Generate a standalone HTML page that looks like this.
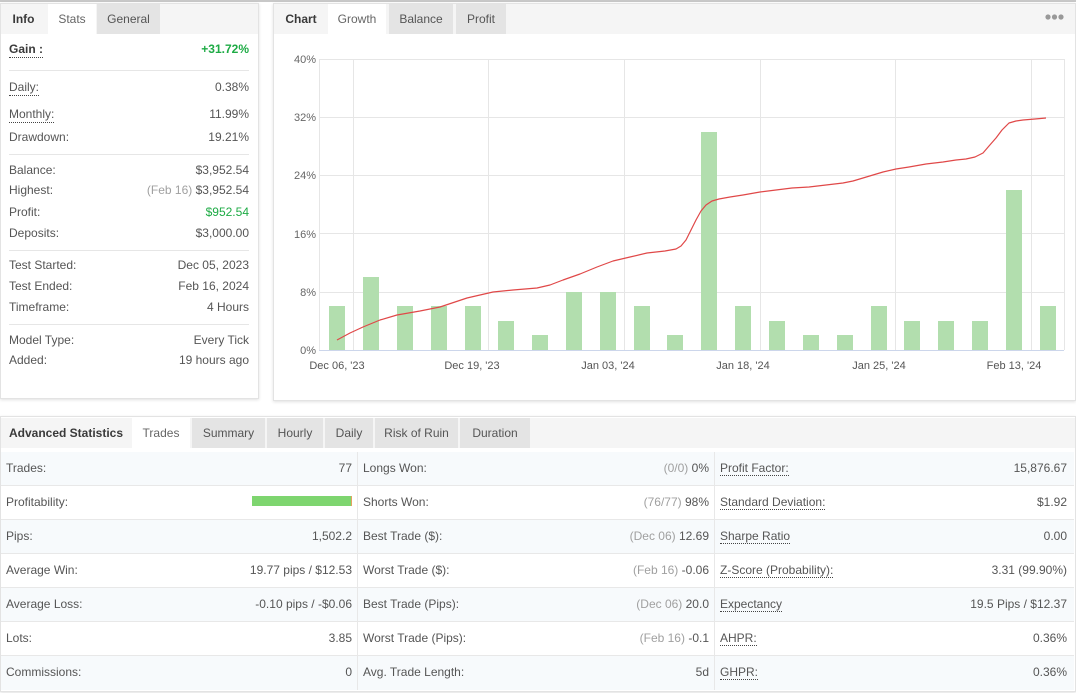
<!DOCTYPE html>
<html><head><meta charset="utf-8">
<style>
*{margin:0;padding:0;box-sizing:border-box}
body{width:1076px;height:693px;background:#fff;font-family:"Liberation Sans",Arial,sans-serif;font-size:12px;color:#555;position:relative;overflow:hidden}
.abs{position:absolute}
.panel{position:absolute;background:#fff;border:1px solid #e3e3e3;box-shadow:0 1px 3px rgba(0,0,0,0.12)}
.hdr{position:absolute;background:#f5f5f5}
.tab{position:absolute;height:30px;line-height:30px;text-align:center;color:#555;font-size:12px}
.tab.w{background:#fff;color:#666}
.tab.g{background:#e4e4e4;color:#555}
.row{position:absolute;left:9px;width:240px;height:16px;line-height:16px;color:#555}
.row .l{position:absolute;left:0;color:#555}
.row .r{position:absolute;right:0;color:#555}
.dot{border-bottom:1px dotted #444}
.gr{color:#a0a0a0}
.hr{position:absolute;left:9px;width:240px;height:1px;background:#e6e6e6}
.tr{position:absolute;left:1px;width:1073px;height:34px;border-bottom:1px solid #e8e8e8}
.tr.b{background:#f7fafc}
.c{position:absolute;top:0;height:33px;line-height:33px;color:#555}
.vsep{position:absolute;width:1px;background:#e8e8e8}
</style></head><body>
<div class="abs" style="left:0;top:0;width:1076px;height:2px;background:#c8c8c8"></div>

<!-- Left panel -->
<div class="panel" style="left:0;top:3px;width:259px;height:396px"></div>
<div class="hdr" style="left:1px;top:4px;width:257px;height:30px"></div>
<div class="tab" style="left:1px;top:4px;width:45px;font-weight:bold;color:#3a3a3a">Info</div>
<div class="tab w" style="left:48px;top:4px;width:48px">Stats</div>
<div class="tab g" style="left:97px;top:4px;width:63px">General</div>

<div class="row" style="top:41px"><span class="l dot" style="font-weight:bold;color:#3a3a3a">Gain :</span><span class="r" style="font-weight:bold;color:#1eab45">+31.72%</span></div>
<div class="hr" style="top:70px"></div>
<div class="row" style="top:79px"><span class="l dot">Daily:</span><span class="r">0.38%</span></div>
<div class="row" style="top:106px"><span class="l dot">Monthly:</span><span class="r">11.99%</span></div>
<div class="row" style="top:129px"><span class="l">Drawdown:</span><span class="r">19.21%</span></div>
<div class="hr" style="top:154px"></div>
<div class="row" style="top:162px"><span class="l">Balance:</span><span class="r">$3,952.54</span></div>
<div class="row" style="top:182px"><span class="l">Highest:</span><span class="r"><span class="gr">(Feb 16)</span> $3,952.54</span></div>
<div class="row" style="top:204px"><span class="l">Profit:</span><span class="r" style="color:#1eab45">$952.54</span></div>
<div class="row" style="top:225px"><span class="l">Deposits:</span><span class="r">$3,000.00</span></div>
<div class="hr" style="top:250px"></div>
<div class="row" style="top:257px"><span class="l">Test Started:</span><span class="r">Dec 05, 2023</span></div>
<div class="row" style="top:278px"><span class="l">Test Ended:</span><span class="r">Feb 16, 2024</span></div>
<div class="row" style="top:299px"><span class="l">Timeframe:</span><span class="r">4 Hours</span></div>
<div class="hr" style="top:324px"></div>
<div class="row" style="top:332px"><span class="l">Model Type:</span><span class="r">Every Tick</span></div>
<div class="row" style="top:352px"><span class="l">Added:</span><span class="r">19 hours ago</span></div>

<!-- Chart panel -->
<div class="panel" style="left:273px;top:3px;width:803px;height:398px"></div>
<div class="hdr" style="left:274px;top:4px;width:801px;height:30px"></div>
<div class="tab" style="left:274px;top:4px;width:54px;color:#3a3a3a;font-weight:bold">Chart</div>
<div class="tab w" style="left:328px;top:4px;width:58px">Growth</div>
<div class="tab g" style="left:389px;top:4px;width:64px">Balance</div>
<div class="tab g" style="left:456px;top:4px;width:50px">Profit</div>
<svg class="abs" style="left:1045px;top:13px" width="20" height="8" viewBox="0 0 20 8">
<circle cx="3" cy="4" r="2.6" fill="#999"/><circle cx="9.5" cy="4" r="2.6" fill="#999"/><circle cx="16" cy="4" r="2.6" fill="#999"/>
</svg>

<svg class="abs" style="left:0;top:0" width="1076" height="400" viewBox="0 0 1076 400">
<g stroke="#e6e6e6" stroke-width="1" fill="none">
<line x1="319" y1="59.5" x2="1064" y2="59.5"/>
<line x1="319" y1="117.5" x2="1064" y2="117.5"/>
<line x1="319" y1="175.5" x2="1064" y2="175.5"/>
<line x1="319" y1="233.5" x2="1064" y2="233.5"/>
<line x1="319" y1="292.5" x2="1064" y2="292.5"/>
<line x1="319.5" y1="59" x2="319.5" y2="350"/>
<line x1="1064.5" y1="59" x2="1064.5" y2="350"/>
<line x1="353.5" y1="59" x2="353.5" y2="350"/>
<line x1="488.5" y1="59" x2="488.5" y2="350"/>
<line x1="624.5" y1="59" x2="624.5" y2="350"/>
<line x1="760.5" y1="59" x2="760.5" y2="350"/>
<line x1="895.5" y1="59" x2="895.5" y2="350"/>
<line x1="1031.5" y1="59" x2="1031.5" y2="350"/>
</g>
<g fill="#b2deae">
<rect x="329" y="306" width="16" height="44"/>
<rect x="363" y="277" width="16" height="73"/>
<rect x="397" y="306" width="16" height="44"/>
<rect x="431" y="306" width="16" height="44"/>
<rect x="465" y="306" width="16" height="44"/>
<rect x="498" y="321" width="16" height="29"/>
<rect x="532" y="335" width="16" height="15"/>
<rect x="566" y="292" width="16" height="58"/>
<rect x="600" y="292" width="16" height="58"/>
<rect x="634" y="306" width="16" height="44"/>
<rect x="667" y="335" width="16" height="15"/>
<rect x="701" y="132" width="16" height="218"/>
<rect x="735" y="306" width="16" height="44"/>
<rect x="769" y="321" width="16" height="29"/>
<rect x="803" y="335" width="16" height="15"/>
<rect x="837" y="335" width="16" height="15"/>
<rect x="871" y="306" width="16" height="44"/>
<rect x="904" y="321" width="16" height="29"/>
<rect x="938" y="321" width="16" height="29"/>
<rect x="972" y="321" width="16" height="29"/>
<rect x="1006" y="190" width="16" height="160"/>
<rect x="1040" y="306" width="16" height="44"/>
</g>
<line x1="319" y1="350.5" x2="1064" y2="350.5" stroke="#ccd6eb" stroke-width="1"/>
<polyline fill="none" stroke="#e04848" stroke-width="1.2" stroke-linejoin="round" points="337,340 350,333 363,327 380,320 397,315 420,311 440,307 467,298 493,292 513,290 537,288 550,285 563,280 580,274 597,267 613,261 630,257 647,253 665,251 676,249 681,246 686,240 691,230 696,220 701,211 706,205 712,201 719,199 730,197 743,195 760,192 776,190 792,188 809,187 826,185 843,183 853,181 863,178 873,175 883,172 896,169 909,167 926,164 943,162 956,160 966,159 975,157 983,153 989,146 996,138 1002,130 1009,123 1016,121 1023,120 1035,119 1046,118"/>
<g font-family="Liberation Sans, Arial, sans-serif" font-size="11" fill="#666" text-anchor="end">
<text x="316" y="63">40%</text>
<text x="316" y="121">32%</text>
<text x="316" y="179">24%</text>
<text x="316" y="238">16%</text>
<text x="316" y="296">8%</text>
<text x="316" y="354">0%</text>
</g>
<g font-family="Liberation Sans, Arial, sans-serif" font-size="11" fill="#555" text-anchor="middle">
<text x="337" y="369">Dec 06, '23</text>
<text x="472" y="369">Dec 19, '23</text>
<text x="608" y="369">Jan 03, '24</text>
<text x="743" y="369">Jan 18, '24</text>
<text x="879" y="369">Jan 25, '24</text>
<text x="1014" y="369">Feb 13, '24</text>
</g>
</svg>

<!-- Advanced statistics -->
<div class="panel" style="left:0;top:416px;width:1076px;height:276px"></div>
<div class="hdr" style="left:1px;top:418px;width:1074px;height:30px"></div>
<div class="tab" style="left:1px;top:418px;width:130px;font-weight:bold;color:#3a3a3a">Advanced Statistics</div>
<div class="tab w" style="left:132px;top:418px;width:58px">Trades</div>
<div class="tab g" style="left:192px;top:418px;width:73px">Summary</div>
<div class="tab g" style="left:267px;top:418px;width:56px">Hourly</div>
<div class="tab g" style="left:325px;top:418px;width:48px">Daily</div>
<div class="tab g" style="left:375px;top:418px;width:83px">Risk of Ruin</div>
<div class="tab g" style="left:460px;top:418px;width:70px">Duration</div>

<div class="tr b" style="top:452px">
<span class="c" style="left:5px">Trades:</span><span class="c" style="right:722px">77</span>
<span class="c" style="left:362px">Longs Won:</span><span class="c" style="right:365px"><span class="gr">(0/0)</span> 0%</span>
<span class="c" style="left:719px"><span class="dot">Profit Factor:</span></span><span class="c" style="right:7px">15,876.67</span>
</div>
<div class="tr" style="top:486px">
<span class="c" style="left:5px">Profitability:</span>
<span class="abs" style="left:251px;top:10px;width:99px;height:10px;background:#7ed56f"></span>
<span class="abs" style="left:350px;top:10px;width:1px;height:10px;background:#e8a060"></span>
<span class="c" style="left:362px">Shorts Won:</span><span class="c" style="right:365px"><span class="gr">(76/77)</span> 98%</span>
<span class="c" style="left:719px"><span class="dot">Standard Deviation:</span></span><span class="c" style="right:7px">$1.92</span>
</div>
<div class="tr b" style="top:520px">
<span class="c" style="left:5px">Pips:</span><span class="c" style="right:722px">1,502.2</span>
<span class="c" style="left:362px">Best Trade ($):</span><span class="c" style="right:365px"><span class="gr">(Dec 06)</span> 12.69</span>
<span class="c" style="left:719px"><span class="dot">Sharpe Ratio</span></span><span class="c" style="right:7px">0.00</span>
</div>
<div class="tr" style="top:554px">
<span class="c" style="left:5px">Average Win:</span><span class="c" style="right:722px">19.77 pips / $12.53</span>
<span class="c" style="left:362px">Worst Trade ($):</span><span class="c" style="right:365px"><span class="gr">(Feb 16)</span> -0.06</span>
<span class="c" style="left:719px"><span class="dot">Z-Score (Probability):</span></span><span class="c" style="right:7px">3.31 (99.90%)</span>
</div>
<div class="tr b" style="top:588px">
<span class="c" style="left:5px">Average Loss:</span><span class="c" style="right:722px">-0.10 pips / -$0.06</span>
<span class="c" style="left:362px">Best Trade (Pips):</span><span class="c" style="right:365px"><span class="gr">(Dec 06)</span> 20.0</span>
<span class="c" style="left:719px"><span class="dot">Expectancy</span></span><span class="c" style="right:7px">19.5 Pips / $12.37</span>
</div>
<div class="tr" style="top:622px">
<span class="c" style="left:5px">Lots:</span><span class="c" style="right:722px">3.85</span>
<span class="c" style="left:362px">Worst Trade (Pips):</span><span class="c" style="right:365px"><span class="gr">(Feb 16)</span> -0.1</span>
<span class="c" style="left:719px"><span class="dot">AHPR:</span></span><span class="c" style="right:7px">0.36%</span>
</div>
<div class="tr b" style="top:656px;border-bottom:none">
<span class="c" style="left:5px">Commissions:</span><span class="c" style="right:722px">0</span>
<span class="c" style="left:362px">Avg. Trade Length:</span><span class="c" style="right:365px">5d</span>
<span class="c" style="left:719px"><span class="dot">GHPR:</span></span><span class="c" style="right:7px">0.36%</span>
</div>
<div class="vsep" style="left:357px;top:452px;height:238px"></div>
<div class="vsep" style="left:714px;top:452px;height:238px"></div>
</body></html>
